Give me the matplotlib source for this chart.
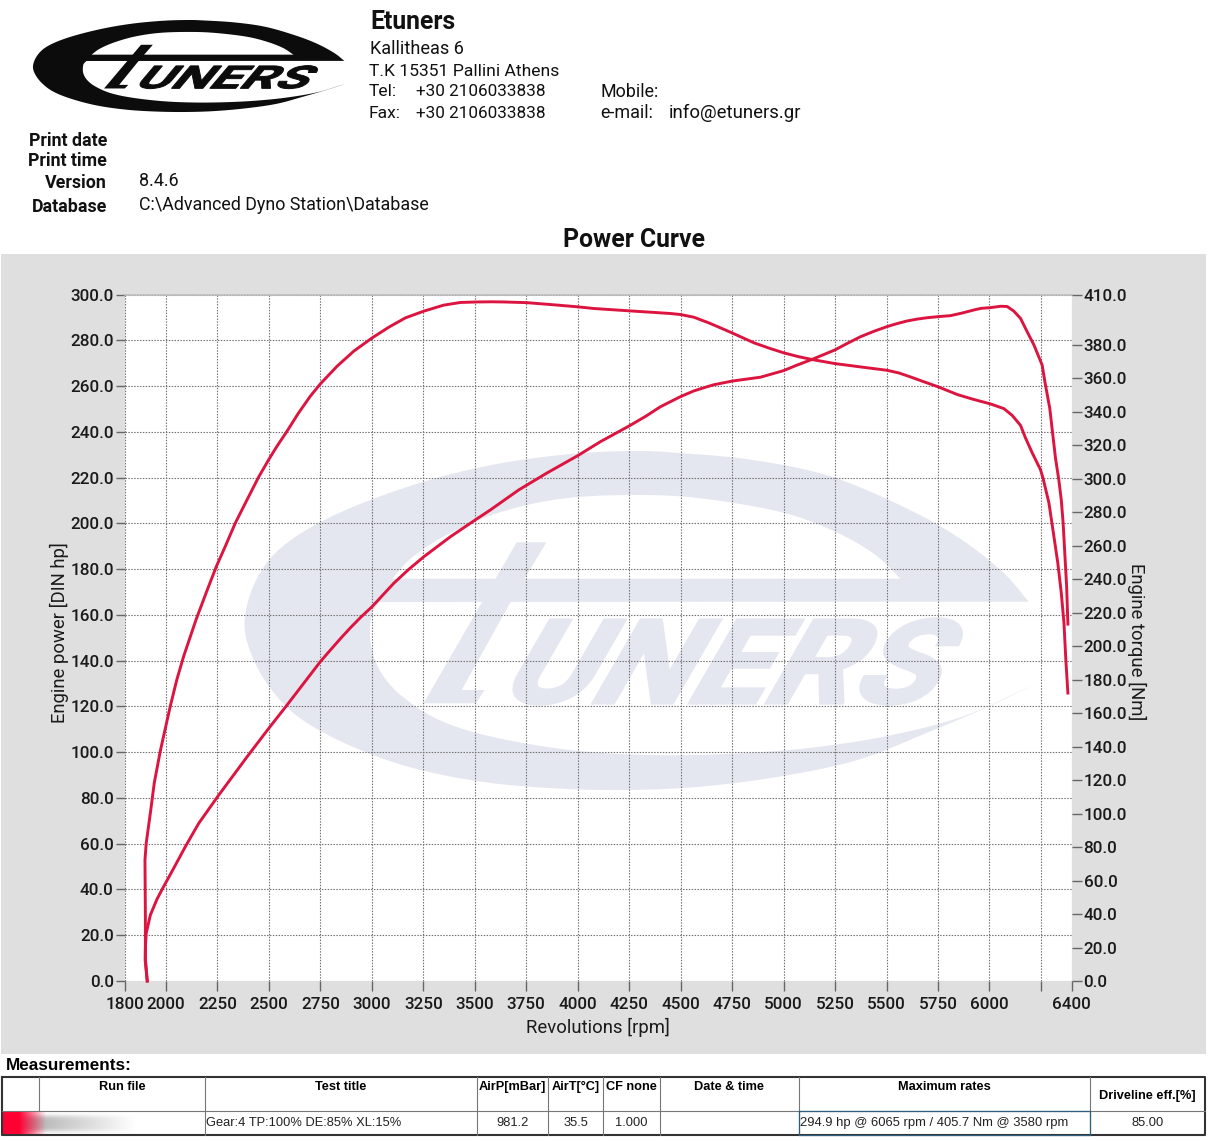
import numpy as np
import matplotlib
matplotlib.use("Agg")
import matplotlib.pyplot as plt
from matplotlib.path import Path
from matplotlib.patches import PathPatch, Rectangle
from matplotlib.textpath import TextPath
from matplotlib.font_manager import FontProperties
from matplotlib.transforms import Affine2D

# ---------- data ----------
power_rpm = [1909,1899,1900,1904,1924,1956,1981,2037,2094,2159,2207,2251,2394,2499,2588,2669,2750,2799,2847,2896,2944,3001,3106,3179,3252,3317,3382,3502,3576,3713,3850,
             4000,4110,4250,4330,4402,4499,4564,4620,4661,4750,4888,5001,5060,5139,5249,5310,5374,5440,5502,5550,5601,5650,5698,5755,5811,5870,5925,5960,6005,
             6054,6086,6118,6151,6183,6216,6256,6272,6293,6306,6321,6337,6349,6358,6366,6375,6381]
power_hp = [0,9,15,20.8,28.8,35.7,40,49.2,58.7,68.9,75,80.6,98,110.4,120.6,130.1,139.6,144.7,149.6,154.4,158.8,163.6,173.8,179.9,185.4,189.8,194.2,201.5,205.9,214.6,222,
            229.6,235.7,242.6,246.8,251,255.4,257.9,259.5,260.6,262.2,263.9,266.8,269,271.7,275.8,278.7,281.6,284,286,287.3,288.5,289.3,289.9,290.4,290.8,292,293.3,294,294.3,
            294.9,294.8,292.8,289.6,283.8,278,269.2,260.5,250.3,240.1,228.4,219,210.2,200,186.9,172.3,156]
torque_rpm = [1909,1900,1900,1898,1904,1924,1943,1972,1997,2021,2053,2086,2146,2199,2245,2288,2337,2394,2450,2499,2539,2588,2644,2701,2750,2831,2912,3001,3082,3163,3252,3349,3430,3511,3580,3641,
              3752,3884,4000,4078,4250,4402,4451,4499,4564,4637,4694,4750,4856,4930,5001,5070,5139,5249,5374,5502,5560,5617,5680,5751,5844,5920,6005,6070,6110,6151,6175,6208,6248,6261,6289,6313,6332,6349,6362,6371,6381]
torque_nm = [0,13.5,38.5,72.3,82.3,100.2,118.2,137.1,151,164.2,180.1,194,215.8,233.1,247.7,259.6,273.6,287.5,301,311.4,319.4,328.4,339.3,349.3,356.7,367.2,376.2,384.1,390.5,396.1,400.1,403.7,405.3,405.6,405.7,405.6,
             405.2,403.9,402.7,401.7,400.3,399.1,398.7,398.1,396.5,393.1,390.1,387.1,381.2,378,375.2,373,371.2,368.8,366.8,364.8,363.2,360.8,358,354.9,350.3,347.5,344.7,341.9,337.9,331.9,324.4,315.4,305.4,300,285.5,265.6,249.7,231.7,213.8,191.9,172]
x_ticks = [1800,2000,2250,2500,2750,3000,3250,3500,3750,4000,4250,4500,4750,5000,5250,5500,5750,6000,6250,6400]
x_tick_labels = ['1800','2000','2250','2500','2750','3000','3250','3500','3750','4000','4250','4500','4750','5000','5250','5500','5750','6000','','6400']
y_left_ticks = list(range(0,301,20))
y_right_ticks = list(range(0,381,20))+[410]
table_heads = ['Run file','Test title','AirP[mBar]','AirT[°C]','CF none','Date & time','Maximum rates','Driveline eff.[%]']
table_row = ['', 'Gear:4 TP:100% DE:85% XL:15%','981.2','35.5','1.000','','294.9 hp @ 6065 rpm / 405.7 Nm @ 3580 rpm','85.00']

W,H = 1209,1141
FONT = 'Roboto'
fig = plt.figure(figsize=(W/100,H/100),dpi=100,facecolor='white')
PX = Affine2D().scale(1/W,-1/H).translate(0,1)+fig.transFigure

fig.patches.append(Rectangle((1,254),1205,800,transform=PX,fc='#DFDFDF',ec='none',zorder=-5))

L,R,T,B = 124.8,1071.8,294.6,981
ax = fig.add_axes([L/W,1-B/H,(R-L)/W,(B-T)/H],facecolor='white')
ax.set_xlim(1800,6400); ax.set_ylim(0,300)
ax2 = ax.twinx(); ax2.set_ylim(0,410)
for a in (ax,ax2):
    for s in a.spines.values(): s.set_visible(False)
ax.spines['top'].set_visible(True); ax.spines['top'].set_color('#BDBDBD'); ax.spines['top'].set_linewidth(1.2)

TICKFS = 12.3
ax.set_xticks(x_ticks); ax.set_xticklabels(x_tick_labels,fontfamily=FONT,fontsize=TICKFS,color='#1a1a1a',fontweight='medium')
ax.set_yticks(y_left_ticks); ax.set_yticklabels([f'{v:.1f}' for v in y_left_ticks],fontfamily=FONT,fontsize=TICKFS,color='#1a1a1a',fontweight='medium')
ax2.set_yticks(y_right_ticks); ax2.set_yticklabels([f'{v:.1f}' for v in y_right_ticks],fontfamily=FONT,fontsize=TICKFS,color='#1a1a1a',fontweight='medium')
ax.tick_params(axis='x',length=7,width=1,color='#666666',pad=4.5)
ax.tick_params(axis='y',length=6.5,width=1,color='#666666',pad=1.5)
ax2.tick_params(axis='y',length=7,width=1,color='#666666',pad=1.5)
ax.grid(True,color='#707070',ls=(0,(1.3,1.3)),lw=0.8)
ax.set_axisbelow('line')

ax.set_xlabel('Revolutions [rpm]',fontfamily=FONT,fontsize=13.3,color='#1a1a1a')
ax.xaxis.set_label_coords(598,1027,transform=PX); ax.xaxis.label.set_va('center')
ax.set_ylabel('Engine power [DIN hp]',fontfamily=FONT,fontsize=13.3,color='#1a1a1a')
ax.yaxis.set_label_coords(59,633,transform=PX); ax.yaxis.label.set_va('center')
ax2.set_ylabel('Engine torque [Nm]',fontfamily=FONT,fontsize=13.3,color='#1a1a1a',rotation=270)
ax2.yaxis.set_label_coords(1137,642,transform=PX); ax2.yaxis.label.set_va('center')

# ---------- logo shape (shared by watermark and header) ----------
outer_arc = [(1527,485),(1480,400),(1400,300),(1300,210),(1150,110),(1000,60),(850,38),(770,33),(650,42),(500,75),(350,135),(200,225),(100,320),
             (50,420),(28,540),(40,640),(75,740),(130,830),(220,910),(340,980),(480,1025),(620,1045),(760,1050),(900,1040),(1050,1010),(1200,960),
             (1330,880),(1450,800),(1535,735)]
inner_arc = [(1535,735),(1400,830),(1250,890),(1100,925),(950,942),(800,945),(650,930),(500,890),(400,840),(330,770),(290,700),
             (270,620),(270,530),(285,486)]
hole_arc = [(310,416),(350,350),(420,280),(520,215),(640,175),(780,165),(900,175),(1050,215),(1150,270),(1230,340),(1282,416)]
stem = [(548,307),(605,307),(535,490),(443,750),(487,750),(470,790),(370,790)]

def catmull(pts,n=10):
    p = np.array(pts,float)
    p = np.vstack([2*p[0]-p[1],p,2*p[-1]-p[-2]])
    out = []
    s = np.linspace(0,1,n,endpoint=False)[:,None]
    for i in range(1,len(p)-2):
        a,b,c,d = p[i-1],p[i],p[i+1],p[i+2]
        out.append(0.5*(2*b+(c-a)*s+(2*a-5*b+4*c-d)*s**2+(3*b-a-3*c+d)*s**3))
    return [tuple(q) for q in np.vstack(out+[p[-2][None,:]])]

body = catmull(outer_arc)+catmull(inner_arc)[1:]
hole = catmull(hole_arc)

def closed(pts):
    v = list(pts)+[pts[0]]
    return v,[Path.MOVETO]+[Path.LINETO]*(len(pts)-1)+[Path.CLOSEPOLY]

def logo(target,color,zorder,mapper,edge):
    v1,c1 = closed(body); v2,c2 = closed(hole)
    p = Path(mapper(np.array(v1+v2,float)),c1+c2)
    target.add_patch(PathPatch(p,fc=color,ec='none',transform=PX,zorder=zorder))
    v3,c3 = closed(stem)
    target.add_patch(PathPatch(Path(mapper(np.array(v3,float)),c3),fc=color,ec='none',transform=PX,zorder=zorder))
    tp = TextPath((0,0),'UNERS',size=1,prop=FontProperties(family=FONT,weight='bold'))
    e = tp.get_extents()
    vv = np.array(tp.vertices,float)
    u = (vv[:,0]-e.x0)/e.width; tt = (vv[:,1]-e.y0)/e.height
    zy = 792-tt*255
    zx = 520+u*806+(792-zy)*0.368
    target.add_patch(PathPatch(Path(mapper(np.column_stack([zx,zy])),tp.codes),fc=color,ec=color,lw=edge,transform=PX,zorder=zorder))

def wm_map(z):
    return np.column_stack([230+z[:,0]/1.912,440+z[:,1]/3])
def hd_map(z):
    return np.column_stack([33+(z[:,0]-28)*313/1507,20+(z[:,1]-33)*92/1017])
logo(ax,'#E4E7EF',0.5,wm_map,2.5)

overlay = fig.add_axes([0,0,1,1],facecolor='none'); overlay.axis('off'); overlay.set_zorder(-1)
logo(overlay,'#0c0c0c',3,hd_map,0.7)

# ---------- curves ----------
CURVE = '#DC1440'
ax2.plot(power_rpm,np.array(power_hp)*410/300,color=CURVE,lw=2.1,solid_joinstyle='round',clip_on=False)
ax2.plot(torque_rpm,torque_nm,color=CURVE,lw=2.1,solid_joinstyle='round',clip_on=False)

# ---------- header text ----------
def t(x,y,s,size=12,weight='normal',ha='left',family=FONT,color='#111111'):
    fig.text(x,y,s,transform=PX,fontsize=size,fontweight=weight,ha=ha,va='center',family=family,color=color)

t(370,22,'Etuners',17.8,'bold')
t(370,49,'Kallitheas 6',13.1)
t(369,71.5,'T.K 15351 Pallini Athens',12.6)
t(369,92,'Tel:',12.6); t(416,92,'+30 2106033838',12.3); t(600,92,'Mobile:',12.9)
t(369,113,'Fax:',12.6); t(416,113,'+30 2106033838',12.3); t(600,113,'e-mail:',12.9); t(669,113,'info@etuners.gr',13.4)
t(107,140.5,'Print date',12.8,'bold',ha='right')
t(107,161.5,'Print time',12.8,'bold',ha='right')
t(107,182.5,'Version',12.8,'bold',ha='right')
t(107,206.5,'Database',12.8,'bold',ha='right')
t(139,181.5,'8.4.6',12.9)
t(139,204.5,r'C:\Advanced Dyno Station\Database',12.9)
t(634,240,'Power Curve',17.8,'bold',ha='center')

# ---------- table ----------
ARIAL = 'Liberation Sans'
t(6,1065.5,'Measurements:',12.3,'bold',family=ARIAL,color='black')
col_edges = [2,39,205,477,548,603,660,799,1090,1205]
top,mid,bot = 1077,1111,1135
g = np.ones((22,140,4))
xs = np.linspace(0,1,140)
ys = np.exp(-((np.linspace(-1,1,22))/0.75)**4)
red = np.clip(1-(xs-0.12)/0.2,0,1)
grey = np.clip(1-(xs-0.22)/0.75,0,1)*ys[:,None]
g[:,:,0] = red+(1-red)*(1-0.3*grey)
g[:,:,1] = (1-red)*(1-0.3*grey)
g[:,:,2] = red*0.2+(1-red)*(1-0.3*grey)
cell = fig.add_axes([2/W,1-bot/H,138/W,(bot-mid-1)/H]); cell.axis('off')
cell.imshow(g,aspect='auto')

lax = fig.add_axes([0,0,1,1],facecolor='none'); lax.axis('off')
lax.set_xlim(0,W); lax.set_ylim(H,0)
lax.plot([2,1205,1205,2,2],[top,top,bot,bot,top],color='#333333',lw=1.5)
lax.plot([2,1205],[mid,mid],color='#777777',lw=0.8)
for x in col_edges[1:-1]:
    lax.plot([x,x],[top,mid if x==39 else bot],color='#777777',lw=0.8)
lax.plot([799,1090,1090,799,799],[mid,mid,bot,bot,mid],color='#2F5F7F',lw=0.9)
centers = [(col_edges[i+1]+col_edges[i+2])/2 for i in range(8)]
for i,(c,h) in enumerate(zip(centers,table_heads)):
    y = 1095.5 if i==7 else 1087
    t(c,y,h,9.2,'bold',ha='center',family=ARIAL,color='black')
t(206,1123,table_row[1],9.3,family=ARIAL,color='#222222')
for i in (2,3,4,7):
    t(centers[i],1123,table_row[i],9.3,ha='center',family=ARIAL,color='#222222')
t(800,1123,table_row[6],9.4,family=ARIAL,color='#222222')

fig.savefig('out.png',dpi=100,facecolor='white')
